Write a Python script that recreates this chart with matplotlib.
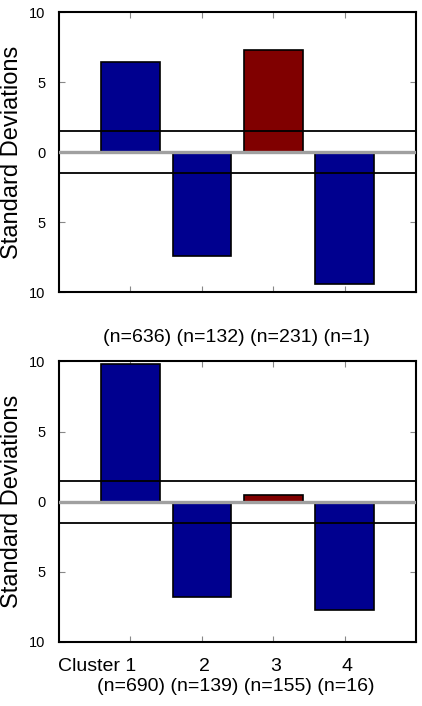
import matplotlib.pyplot as plt
from matplotlib.ticker import FuncFormatter
import numpy as np

plt.rcParams['font.family'] = ['Liberation Sans', 'DejaVu Sans']

clusters = [1, 2, 3, 4]
cluster_names = ['Cluster 1', '2', '3', '4']

top_values = [6.4, -7.4, 7.3, -9.4]
top_colors = ['#00008f', '#00008f', '#800000', '#00008f']
top_counts = [636, 132, 231, 1]

bottom_values = [9.8, -6.8, 0.45, -7.7]
bottom_colors = ['#00008f', '#00008f', '#800000', '#00008f']
bottom_counts = [690, 139, 155, 16]

threshold = 1.5
yticks = [-10, -5, 0, 5, 10]


def draw_panel(ax, values, colors, counts, names=None):
    ax.bar(clusters, values, width=0.82, color=colors, edgecolor='black',
           linewidth=1.2, zorder=2)
    ax.axhline(threshold, color='black', linewidth=1.3, zorder=3)
    ax.axhline(-threshold, color='black', linewidth=1.3, zorder=3)
    ax.axhline(0, color='#a0a0a0', linewidth=2.4, zorder=4)
    ax.set_xlim(0, 5)
    ax.set_ylim(-10, 10)
    ax.set_xticks(clusters)
    ax.set_xticklabels([])
    ax.set_yticks(yticks)
    ax.yaxis.set_major_formatter(FuncFormatter(lambda v, p: '%d' % abs(v)))
    ax.tick_params(direction='in', top=True, right=True, length=4,
                   color='#888888', labelsize=10.5, pad=10)
    for s in ax.spines.values():
        s.set_linewidth(1.5)
    ax.set_ylabel('Standard Deviations', fontsize=17, labelpad=4)

    # n counts row below the axis
    label = ' '.join('(n=%d)' % c for c in counts)
    ax.annotate(label, xy=(2.48, -10), xycoords='data',
                xytext=(0, -45), textcoords='offset pixels',
                ha='center', va='center', fontsize=14)
    if names:
        for x, nm in zip(clusters, names):
            if nm.startswith('Cluster'):
                ax.annotate(nm, xy=(x + 0.08, -10), xycoords='data',
                            xytext=(0, -25), textcoords='offset pixels',
                            ha='right', va='center', fontsize=14)
            else:
                ax.annotate(nm, xy=(x + 0.03, -10), xycoords='data',
                            xytext=(0, -25), textcoords='offset pixels',
                            ha='center', va='center', fontsize=14)


fig = plt.figure(figsize=(4.22, 7.06), dpi=100)
ax1 = fig.add_axes([0.140, 0.586, 0.846, 0.397])
ax2 = fig.add_axes([0.140, 0.091, 0.846, 0.397])

draw_panel(ax1, top_values, top_colors, top_counts)
draw_panel(ax2, bottom_values, bottom_colors, bottom_counts, cluster_names)

fig.savefig('out.png', dpi=100)
